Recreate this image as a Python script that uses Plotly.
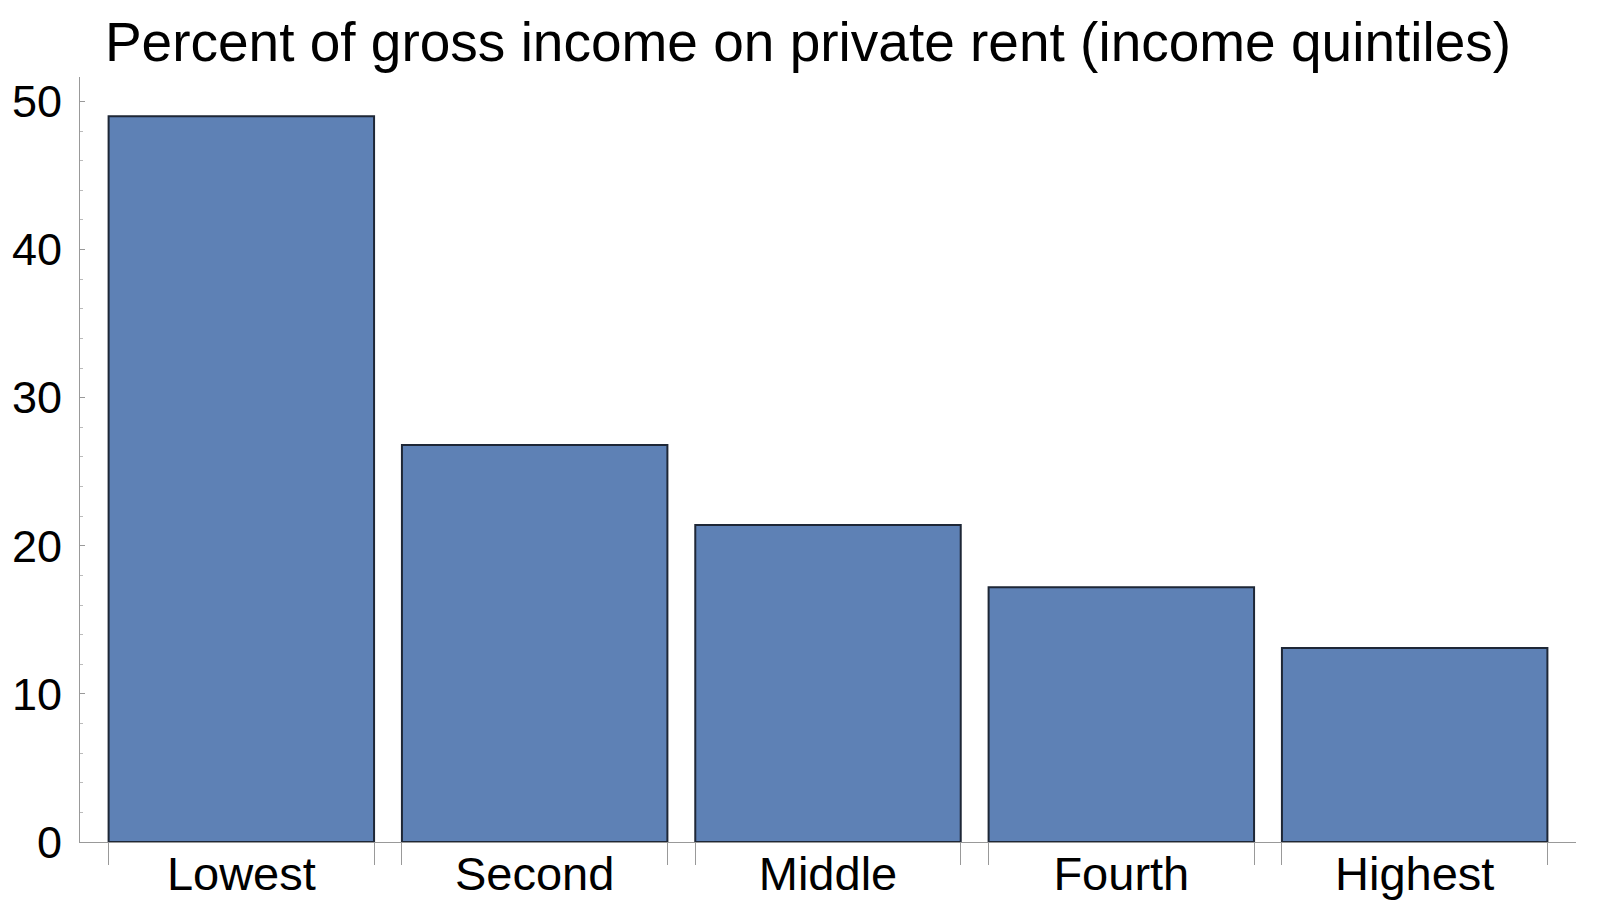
import plotly.graph_objects as go

# income quintiles and share of gross income spent on private rent (%)
quintiles = ["Lowest", "Second", "Middle", "Fourth", "Highest"]
rent_share = [49.0, 26.8, 21.4, 17.2, 13.1]
y_ticks = [0, 10, 20, 30, 40, 50]

bar_width = 0.905
positions = list(range(len(quintiles)))
# tick marks sit on the bar edges, like the original
edges = []
for p in positions:
    edges += [p - bar_width / 2, p + bar_width / 2]

fig = go.Figure()
fig.add_trace(go.Bar(
    x=positions,
    y=rent_share,
    width=bar_width,
    marker=dict(color="#5E81B5", line=dict(color="#1E2736", width=2)),
    hoverinfo="x+y",
))
# invisible helper trace to carry the category labels axis
fig.add_trace(go.Scatter(x=positions, y=rent_share, xaxis="x2", mode="markers",
                         marker=dict(opacity=0), showlegend=False, hoverinfo="skip"))

x_range = [-0.55, len(quintiles) - 1 + 0.55]
font = "Liberation Sans, Arial, Helvetica, sans-serif"

fig.update_layout(
    width=1600, height=900,
    paper_bgcolor="white", plot_bgcolor="white",
    showlegend=False,
    margin=dict(l=72, r=32, t=69, b=66, autoexpand=False),
    font=dict(family=font, size=48, color="black"),
    title=dict(text="Percent of gross income on private rent (income quintiles)",
               x=0.5, xanchor="center", y=0.962, yanchor="middle",
               font=dict(family=font, size=55, color="black")),
    xaxis=dict(range=x_range, tickvals=edges, ticktext=[""] * len(edges),
               ticks="outside", ticklen=22, tickcolor="#999999", tickwidth=1,
               showline=True, linecolor="#999999", linewidth=1, automargin=False,
               showgrid=False, zeroline=False, fixedrange=True),
    xaxis2=dict(range=x_range, overlaying="x", side="bottom", automargin=False,
                tickvals=positions, ticktext=quintiles, ticks="",
                ticklabelstandoff=0, tickfont=dict(size=47),
                showline=False, showgrid=False, zeroline=False),
    yaxis=dict(range=[0, 51.65], tickvals=y_ticks, automargin=False,
               ticks="inside", ticklen=5, tickcolor="#999999", tickwidth=1,
               minor=dict(dtick=2, ticks="inside", ticklen=3, tickcolor="#bbbbbb"),
               showline=True, linecolor="#999999", linewidth=1,
               showgrid=False, zeroline=False, ticklabelstandoff=8,
               tickfont=dict(size=45)),
)

fig.write_html("out.html")
